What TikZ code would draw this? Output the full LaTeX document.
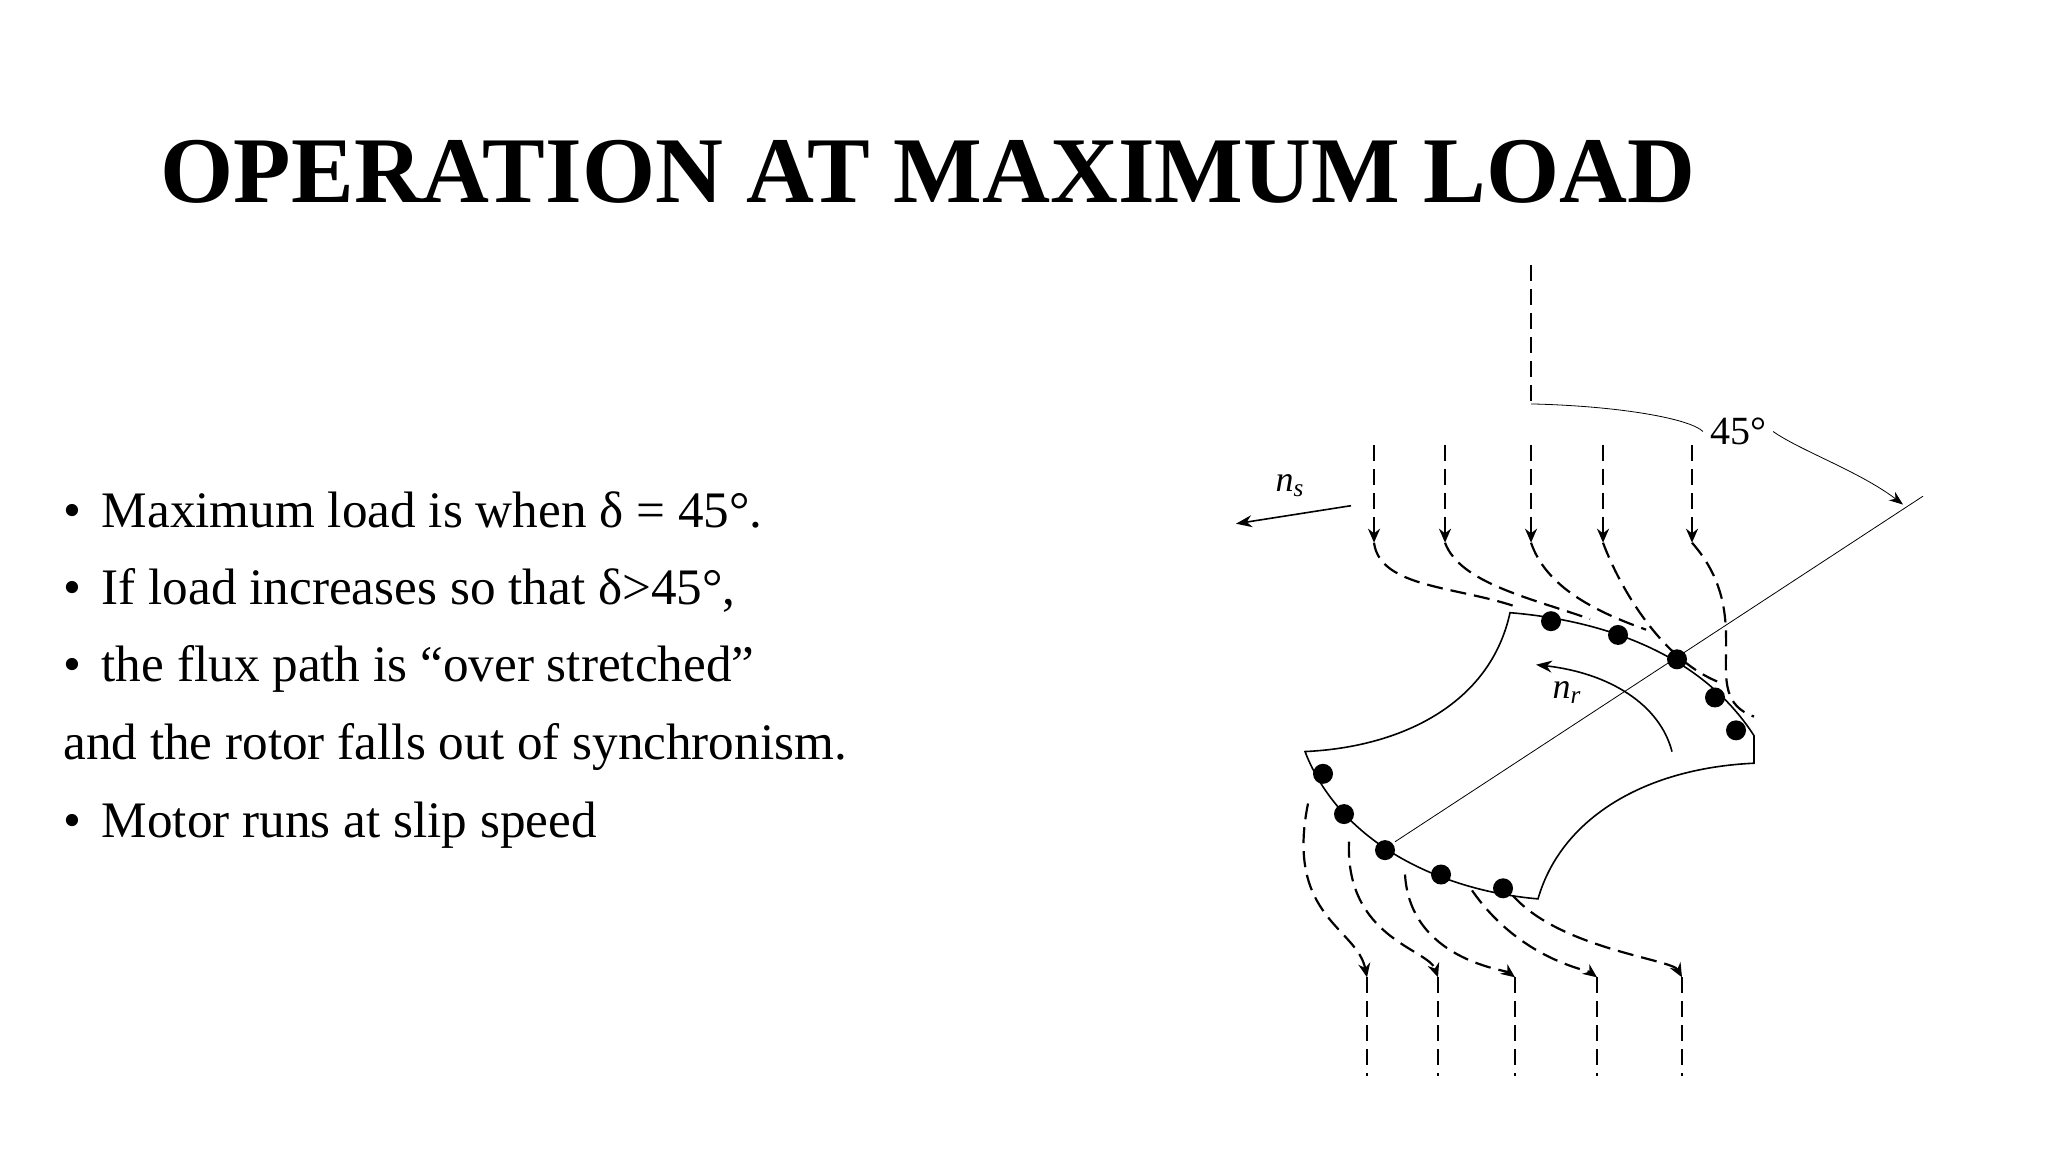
\documentclass[tikz,border=0pt]{standalone}
\usepackage{fontspec}
\setmainfont{Liberation Serif}
\usetikzlibrary{arrows.meta}
\begin{document}
\begin{tikzpicture}[x=0.5pt,y=-0.5pt,
    flux/.style={line width=1.1pt, dash pattern=on 8pt off 4pt},
    fluxtip/.style={flux, -{Stealth[length=7pt,width=6pt]}},
    slot/.style={circle, fill=black, inner sep=0pt, minimum size=10pt},
    edge/.style={thick, line cap=round},
    bullet/.style={anchor=base west, inner sep=0pt, font=\fontsize{25.6}{30}\selectfont}]
    \useasboundingbox (0,0) rectangle (2048,1152);
    % title
    \node[anchor=base, font=\fontsize{47}{56}\selectfont\bfseries] (title) at (928,202) {OPERATION AT MAXIMUM LOAD};
    % bullet text
    \node[bullet] (l1) at (63,527) {\textbullet\hspace{0.4em}Maximum load is when δ = 45°.};
    \node[bullet] (l2) at (63,604) {\textbullet\hspace{0.4em}If load increases so that δ>45°,};
    \node[bullet] (l3) at (63,681) {\textbullet\hspace{0.4em}the flux path is “over stretched”};
    \node[bullet] (l4) at (63,759) {and the rotor falls out of synchronism.};
    \node[bullet] (l5) at (63,837) {\textbullet\hspace{0.4em}Motor runs at slip speed};
    \begin{scope}[shift={(0,265)}, yscale=1.06, shift={(0,-265)}]
    % rotor outline
    \draw[edge] (1510,593) .. controls (1600,600) and (1700,630) .. (1754,709)
        -- (1754,735) .. controls (1640,740) and (1560,790) .. (1538,863)
        .. controls (1440,855) and (1340,810) .. (1305,724)
        .. controls (1400,720) and (1490,680) .. (1510,593) -- cycle;
    % slots
    \foreach \p [count=\i] in {(1551,601),(1618,614),(1677,637),(1715,673),(1736,704)}
        \node[slot] (ts\i) at \p {};
    \foreach \p [count=\i] in {(1323,745),(1344,783),(1385,817),(1441,840),(1503,853)}
        \node[slot] (bs\i) at \p {};
    % reference axis and angle
    \coordinate (ax0) at (1395,809);
    \coordinate (ax1) at (1923,483);
    \draw (ax0) -- (ax1);
    \coordinate (c0) at (1531,265);
    \coordinate (c1) at (1531,396);
    \draw[flux] (c0) -- (c1);
    \node[font=\fontsize{20}{22}\selectfont] (ang) at (1738,422) {45°};
    \draw (c1) .. controls (1620,398) and (1690,410) .. (ang.west);
    \draw[-{Stealth[length=7pt]}] (ang.east) .. controls (1800,440) and (1860,460) .. (1903,491);
    % speed arrows
    \node[font=\fontsize{18}{20}\selectfont\itshape] (ns) at (1290,473) {n\textsubscript{s}};
    \coordinate (ns0) at (1351,492);
    \coordinate (ns1) at (1236,509);
    \draw[thick, -{Stealth[length=8pt]}] (ns0) -- (ns1);
    \node[font=\fontsize{18}{20}\selectfont\itshape] (nr) at (1567,668) {n\textsubscript{r}};
    \coordinate (nr0) at (1672,724);
    \coordinate (nr1) at (1536,642);
    \draw[thick, -{Stealth[length=8pt]}] (nr0) .. controls (1660,680) and (1610,650) .. (nr1);
    % flux lines, upper side
    \foreach \x/\ex/\ey/\mx/\my in {1374/1518/588/1380/570, 1445/1590/599/1460/565, 1531/1646/609/1545/565, 1603/1723/660/1620/570, 1692/1754/691/1760/600} {
        \draw[fluxtip] (\x,435) -- (\x,527);
        \draw[flux] (\x,527) .. controls (\mx,\my) and (\ex-60,\ey-20) .. (\ex,\ey);
    }
    % flux lines, lower side
    \foreach \sx/\sy/\x/\mx/\my in {1308/773/1367/1285/880, 1349/809/1438/1345/900, 1405/840/1515/1410/920, 1472/855/1597/1520/920, 1513/860/1682/1560/910} {
        \draw[fluxtip] (\sx,\sy) .. controls (\mx,\my) and (\x-10,\my+10) .. (\x,937);
        \draw[flux] (\x,937) -- (\x,1030);
    }
    \end{scope}
\end{tikzpicture}
\end{document}
